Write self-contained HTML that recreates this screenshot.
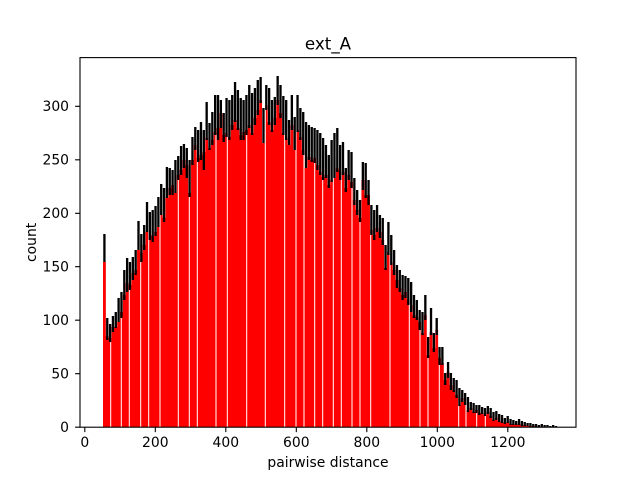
<!DOCTYPE html>
<html>
<head>
<meta charset="utf-8">
<style>
  html,body{margin:0;padding:0;background:#fff;}
  svg{display:block;}
  text{font-family:"DejaVu Sans","Liberation Sans",sans-serif;fill:#000;}
</style>
</head>
<body>
<svg width="640" height="480" viewBox="0 0 640 480" xmlns="http://www.w3.org/2000/svg">
  <rect x="0" y="0" width="640" height="480" fill="#fff"/>
  <!-- red bars -->
  <g transform="translate(103,0) scale(2.84,1)">
    <path fill="#ff0000" d="M0 427.2 V262 H1 V336 H2 V338 H3 V327 H4 V327 H5 V322 H6 V312 H7 V295 H8 V283 H9 V285 H10 V273 H11 V270 H12 V250 H13 V253 H14 V245 H15 V232 H16 V235 H17 V236 H18 V232 H19 V227 H20 V215 H21 V218 H22 V198 H23 V188 H24 V185 H25 V193 H26 V175 H27 V170 H28 V160 H29 V165 H30 V193 H31 V160 H32 V145 H33 V158 H34 V155 H35 V152 H36 V138 H37 V148 H38 V140 H39 V132 H40 V128 H41 V113 H42 V135 H43 V133 H44 V137 H45 V125 H46 V120 H47 V128 H48 V135 H49 V132 H50 V130 H51 V125 H52 V133 H53 V118 H54 V110 H55 V100 H56 V143 H57 V105 H58 V122 H59 V130 H60 V118 H61 V100 H62 V113 H63 V133 H64 V138 H65 V145 H66 V125 H67 V150 H68 V130 H69 V137 H70 V150 H71 V168 H72 V157 H73 V160 H74 V158 H75 V165 H76 V172 H77 V177 H78 V175 H79 V185 H80 V180 H81 V178 H82 V168 H83 V170 H84 V172 H85 V188 H86 V175 H87 V182 H88 V200 H89 V210 H90 V218 H91 V180 H92 V195 H93 V195 H94 V230 H95 V235 H96 V228 H97 V232 H98 V240 H99 V268 H100 V252 H101 V262 H102 V270 H103 V280 H104 V288 H105 V295 H106 V292 H107 V300 H108 V305 H109 V315 H110 V317 H111 V322 H112 V333 H113 V315 H114 V355 H115 V332 H116 V348 H117 V330 H118 V358 H119 V363 H120 V380 H121 V372 H122 V385 H123 V390 H124 V395 H125 V405 H126 V398 H127 V402 H128 V410 H129 V408 H130 V412 H131 V410 H132 V413 H133 V413 H134 V415 H135 V412 H136 V416 H137 V420 H138 V418 H139 V421 H140 V422 H141 V423 H142 V422 H143 V424 H144 V424 H145 V425 H146 V424 H147 V425 H148 V425 H149 V426 H150 V426 H151 V426 H152 V426 H153 V427 H154 V426.5 H155 V427 H160 V427.2 Z"/>
  </g>
  <!-- white seams between bars -->
  <path stroke="#fff" stroke-width="1" fill="none" d="M110.7 58V427 M121.3 58V427 M129.3 58V427 M140.7 58V427 M148.7 58V427 M160 58V427 M178.3 58V427 M189.3 58V427 M197.3 58V427 M216 58V427 M227.3 58V427 M246.7 58V427 M265.3 58V427 M284.7 58V427 M296 58V427 M304 58V427 M314.7 58V427 M322.7 58V427 M333.3 58V427 M341.3 58V427 M352 58V427 M360 58V427 M370.7 58V427 M390 58V427 M409.3 58V427 M420 58V427 M428 58V427 M439.3 58V427 M458.7 58V427 M466 58V427 M476.7 58V427 M485.3 58V427"/>
  <!-- black segments -->
  <g transform="translate(103,0) scale(2.84,1)">
    <path stroke="#000" stroke-width="0.82" fill="none" stroke-linecap="butt" d="M0.5 262V234 M1.5 340V318 M2.5 342V324 M3.5 332V316 M4.5 328V312 M5.5 322V298 M6.5 318V292 M7.5 300V270 M8.5 292V258 M9.5 290V262 M10.5 280V257 M11.5 275V250 M12.5 250V221 M13.5 262V234 M14.5 250V225 M15.5 232V202 M16.5 240V212 M17.5 242V210 M18.5 236V206 M19.5 227V197 M20.5 215V184 M21.5 222V188 M22.5 198V167 M23.5 195V168 M24.5 195V170 M25.5 193V160 M26.5 180V156 M27.5 175V146 M28.5 168V144 M29.5 178V148 M30.5 197V160 M31.5 165V137 M32.5 150V127 M33.5 162V130 M34.5 160V122 M35.5 170V130 M36.5 140V102 M37.5 150V123 M38.5 145V112 M39.5 135V95 M40.5 140V95 M41.5 128V100 M42.5 142V113 M43.5 137V98 M44.5 140V100 M45.5 130V95 M46.5 122V82 M47.5 130V90 M48.5 140V98 M49.5 140V100 M50.5 135V95 M51.5 128V85 M52.5 135V93 M53.5 125V88 M54.5 115V80 M55.5 103V77 M56.5 143V108 M57.5 110V85 M58.5 125V88 M59.5 132V100 M60.5 125V97 M61.5 105V76 M62.5 118V85 M63.5 135V96 M64.5 140V100 M65.5 145V120 M66.5 130V95 M67.5 150V117 M68.5 132V95 M69.5 140V108 M70.5 155V112 M71.5 168V122 M72.5 160V125 M73.5 162V127 M74.5 163V128 M75.5 170V130 M76.5 175V133 M77.5 180V138 M78.5 178V145 M79.5 188V155 M80.5 182V140 M81.5 178V133 M82.5 172V128 M83.5 180V145 M84.5 175V142 M85.5 192V168 M86.5 180V150 M87.5 188V152 M88.5 205V178 M89.5 215V190 M90.5 222V200 M91.5 190V162 M92.5 198V163 M93.5 205V180 M94.5 235V205 M95.5 240V210 M96.5 232V205 M97.5 238V215 M98.5 245V218 M99.5 270V245 M100.5 255V222 M101.5 265V235 M102.5 275V250 M103.5 288V265 M104.5 292V270 M105.5 300V275 M106.5 298V276 M107.5 305V278 M108.5 312V282 M109.5 318V295 M110.5 320V300 M111.5 330V310 M112.5 335V312 M113.5 320V295 M114.5 358V337 M115.5 335V308 M116.5 352V333 M117.5 335V318 M118.5 365V347 M119.5 365V347 M120.5 385V373 M121.5 378V362 M122.5 390V373 M123.5 392V378 M124.5 398V380 M125.5 406V388 M126.5 402V390 M127.5 405V393 M128.5 412V397 M129.5 410V402 M130.5 413V403 M131.5 413V405 M132.5 415V405 M133.5 414V407 M134.5 416V408 M135.5 414V406 M136.5 418V408 M137.5 421V412 M138.5 420V411 M139.5 422V414 M140.5 423V415 M141.5 424V418 M142.5 423V416 M143.5 425V419 M144.5 425V420 M145.5 425V421 M146.5 425V419 M147.5 426V421 M148.5 426V422 M149.5 426V423 M150.5 427V423 M151.5 427V424 M152.5 427V424 M153.5 427V425 M154.5 427V424 M155.5 427V425 M156.5 427V425 M157.5 427V426 M158.5 427V425 M159.5 427V426"/>
  </g>
  <!-- axes frame -->
  <rect x="80" y="57.6" width="496" height="369.6" fill="none" stroke="#000" stroke-width="1.1"/>
  <!-- x ticks -->
  <path stroke="#000" stroke-width="1.1" d="M84.8 427.2V432.1 M155.3 427.2V432.1 M225.8 427.2V432.1 M296.3 427.2V432.1 M366.8 427.2V432.1 M437.3 427.2V432.1 M507.8 427.2V432.1"/>
  <g font-size="13.9" text-anchor="middle">
    <text x="84.8" y="447">0</text>
    <text x="155.3" y="447">200</text>
    <text x="225.8" y="447">400</text>
    <text x="296.3" y="447">600</text>
    <text x="366.8" y="447">800</text>
    <text x="437.3" y="447">1000</text>
    <text x="507.8" y="447">1200</text>
  </g>
  <!-- y ticks -->
  <path stroke="#000" stroke-width="1.1" d="M75.1 427.2H80 M75.1 373.7H80 M75.1 320.2H80 M75.1 266.7H80 M75.1 213.3H80 M75.1 159.8H80 M75.1 106.3H80"/>
  <g font-size="13.9" text-anchor="end">
    <text x="69" y="432.1">0</text>
    <text x="69" y="378.6">50</text>
    <text x="69" y="325.1">100</text>
    <text x="69" y="271.6">150</text>
    <text x="69" y="218.2">200</text>
    <text x="69" y="164.7">250</text>
    <text x="69" y="111.2">300</text>
  </g>
  <!-- labels -->
  <text x="328" y="467" font-size="13.9" text-anchor="middle">pairwise distance</text>
  <text transform="translate(36,242.4) rotate(-90)" font-size="13.9" text-anchor="middle">count</text>
  <text x="328" y="49.3" font-size="16.7" text-anchor="middle">ext_A</text>
</svg>
</body>
</html>
